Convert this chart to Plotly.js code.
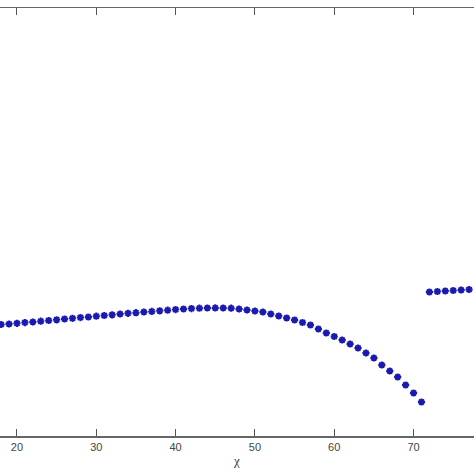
<!DOCTYPE html>
<html>
<head>
<meta charset="utf-8">
<script src="https://cdn.plot.ly/plotly-3.0.1.min.js"></script>
<style>html,body{margin:0;padding:0;background:#fff;}#chart{width:474px;height:474px;}</style>
</head>
<body>
<div id="chart"></div>
<script>
// Series 1 (x = 18..71)
var x1 = [18,19,20,21,22,23,24,25,26,27,28,29,30,31,32,33,34,35,36,37,38,39,40,41,42,43,44,45,46,47,48,49,50,51,52,53,54,55,56,57,58,59,60,61,62,63,64,65,66,67,68,69,70,71];
var y1 = [111.5,112,112.7,113.4,114,114.8,115.5,116.2,117,117.7,118.4,119,119.8,120.5,121.2,122,122.7,123.3,124,124.6,125.2,125.8,126.4,127,127.4,127.8,128,128.1,128,127.8,127,126,125,124,122,120,118,116,113.5,111,107,103,99.5,96,92,88,83,78,71,65,59,51,43,34];
// Series 2 (x = 72..77)
var x2 = [72,73,74,75,76,77];
var y2 = [144,144.5,145,145.5,146,146.5];
var xTicks = [20,30,40,50,60,70];
var xLabel = 'χ';

var mk = {symbol:'asterisk-open', size:6, color:'#1a1ab0', line:{width:2, color:'#1a1ab0'}};
var traces = [
  {x:x1, y:y1, mode:'markers', type:'scatter', marker:mk, showlegend:false},
  {x:x2, y:y2, mode:'markers', type:'scatter', marker:mk, showlegend:false}
];
var layout = {
  width:474, height:474,
  margin:{l:0, r:0, t:8, b:38},
  paper_bgcolor:'#fff', plot_bgcolor:'#fff',
  xaxis:{range:[17.86,77.62], tickvals:xTicks, ticktext:xTicks.map(String),
    ticks:'inside', ticklen:7, tickcolor:'#555', tickwidth:1,
    showline:true, linecolor:'#666', linewidth:1.5, mirror:'ticks',
    showgrid:false, zeroline:false,
    tickfont:{family:'Liberation Sans, Arial, sans-serif', size:11, color:'#444'},
    title:{text:xLabel, standoff:4, font:{family:'Liberation Serif, serif', size:13, color:'#333'}}},
  yaxis:{range:[0,428], showline:false, showticklabels:false, ticks:'', showgrid:false, zeroline:false},
  font:{family:'Liberation Sans, Arial, sans-serif'}
};
Plotly.newPlot('chart', traces, layout, {displayModeBar:false, staticPlot:true});
</script>
</body>
</html>
